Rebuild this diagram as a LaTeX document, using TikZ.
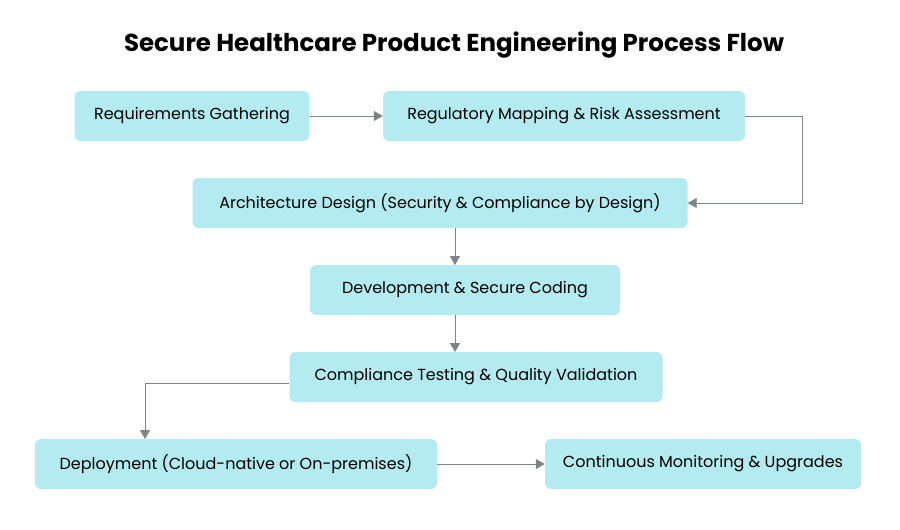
\documentclass[tikz,border=0pt]{standalone}
\usepackage{fontspec}
\setmainfont{Poppins}
\usetikzlibrary{arrows.meta,positioning}
\definecolor{boxfill}{HTML}{B3EBF0}
\definecolor{linegray}{HTML}{7B8585}
\tikzset{
  stage/.style={rectangle,rounded corners=6pt,fill=boxfill,draw=none,minimum height=50pt,font=\fontsize{16}{18}\selectfont},
  arrow/.style={draw=linegray,thick,-{Triangle[length=9pt,width=10pt]}}
}
\begin{document}
\begin{tikzpicture}[x=1pt,y=-1pt]
\useasboundingbox (0,0) rectangle (900,530);
\node[font=\fontsize{24.5}{27}\selectfont\bfseries] (title) at (454,45) {Secure Healthcare Product Engineering Process Flow};
\node[stage,minimum width=235pt] (req) at (192,116) {Requirements Gathering};
\node[stage,minimum width=362pt] (reg) at (564,116) {Regulatory Mapping \& Risk Assessment};
\node[stage,minimum width=495pt] (arch) at (440,203) {Architecture Design (Security \& Compliance by Design)};
\node[stage,minimum width=310pt] (dev) at (465,290) {Development \& Secure Coding};
\node[stage,minimum width=373pt] (test) at (476,377) {Compliance Testing \& Quality Validation};
\node[stage,minimum width=402pt] (dep) at (236,464) {Deployment (Cloud-native or On-premises)};
\node[stage,minimum width=316pt] (mon) at (703,464) {Continuous Monitoring \& Upgrades};
% connectors
\draw[arrow] (req) -- (reg);
\draw[arrow] (reg.east) -| (802,203) -- (arch.east);
\draw[arrow] (455,228) -- (455,265);
\draw[arrow] (455,315) -- (455,352);
\draw[arrow] ([yshift=-6pt]test.west) -| (145,439);
\draw[arrow] (dep) -- (mon);
\end{tikzpicture}
\end{document}
